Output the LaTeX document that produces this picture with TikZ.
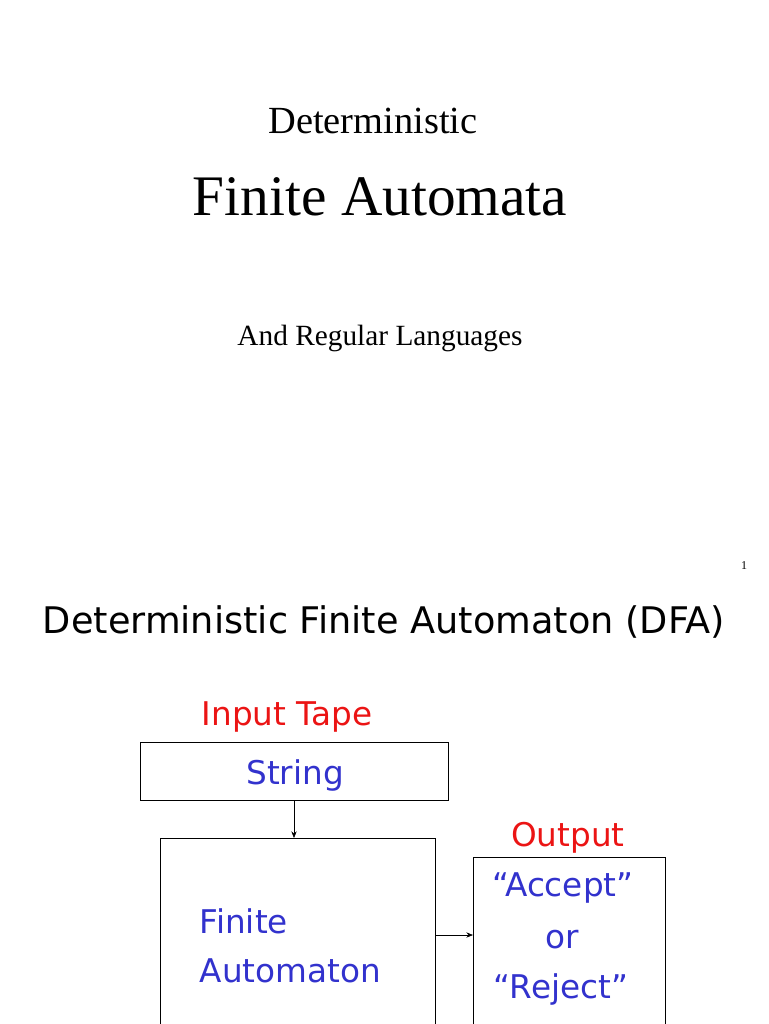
\documentclass[tikz,border=0pt]{standalone}
\usepackage{fontspec}
\setmainfont{Liberation Serif}
\newfontfamily\slidefont{DejaVu Sans}
\usetikzlibrary{positioning}
\definecolor{tapered}{RGB}{235,20,20}
\definecolor{tapeblue}{RGB}{50,50,205}

\tikzset{
	box/.style={draw, line width=0.6pt},
	lbl/.style={font=\slidefont\fontsize{24.5}{28}\selectfont},
	redlbl/.style={lbl, text=tapered},
	bluelbl/.style={lbl, text=tapeblue},
	flow/.style={-{Stealth[length=5pt,width=4pt]}, line width=0.5pt}
}
\usetikzlibrary{arrows.meta}

\begin{document}
\begin{tikzpicture}[x=0.75pt, y=-0.75pt]%[show background grid]

	\useasboundingbox (0,0) rectangle (768,1024);

	% title slide
	\node (det) at (373,121) {\fontsize{28.8}{32}\selectfont Deterministic};
	\node (fa) at (380,197) {\fontsize{43}{48}\selectfont Finite Automata};
	\node (regular) at (380,338) {\fontsize{22}{25}\selectfont And Regular Languages};
	\node (page) at (744,566) {\fontsize{9}{10}\selectfont 1};

	% second slide
	\node (dfa) at (384,622) {\slidefont\fontsize{27.5}{32}\selectfont Deterministic Finite Automaton (DFA)};

	\node[redlbl] (tapelbl) at (287,717) {Input Tape};
	\draw[box] (140,742) rectangle (448,800);
	\node[bluelbl] (string) at (295,775) {String};
	\coordinate (tapebot) at (294,800);

	\draw[box] (160,838) rectangle (435,1030);
	\coordinate (fatop) at (294,838);
	\node[bluelbl, anchor=west] (finite) at (195,921) {Finite};
	\node[bluelbl, anchor=west] (automaton) at (195,971) {Automaton};
	\coordinate (faright) at (435,935);

	\node[redlbl] (outlbl) at (568,838) {Output};
	\draw[box] (473,857) rectangle (665,1030);
	\coordinate (outleft) at (473,935);
	\node[bluelbl] (accept) at (563,888) {“Accept”};
	\node[bluelbl] (or) at (562,940) {or};
	\node[bluelbl] (reject) at (561,989) {“Reject”};

	\draw[flow] (tapebot) -- (fatop);
	\draw[flow] (faright) -- (outleft);

\end{tikzpicture}
\end{document}
